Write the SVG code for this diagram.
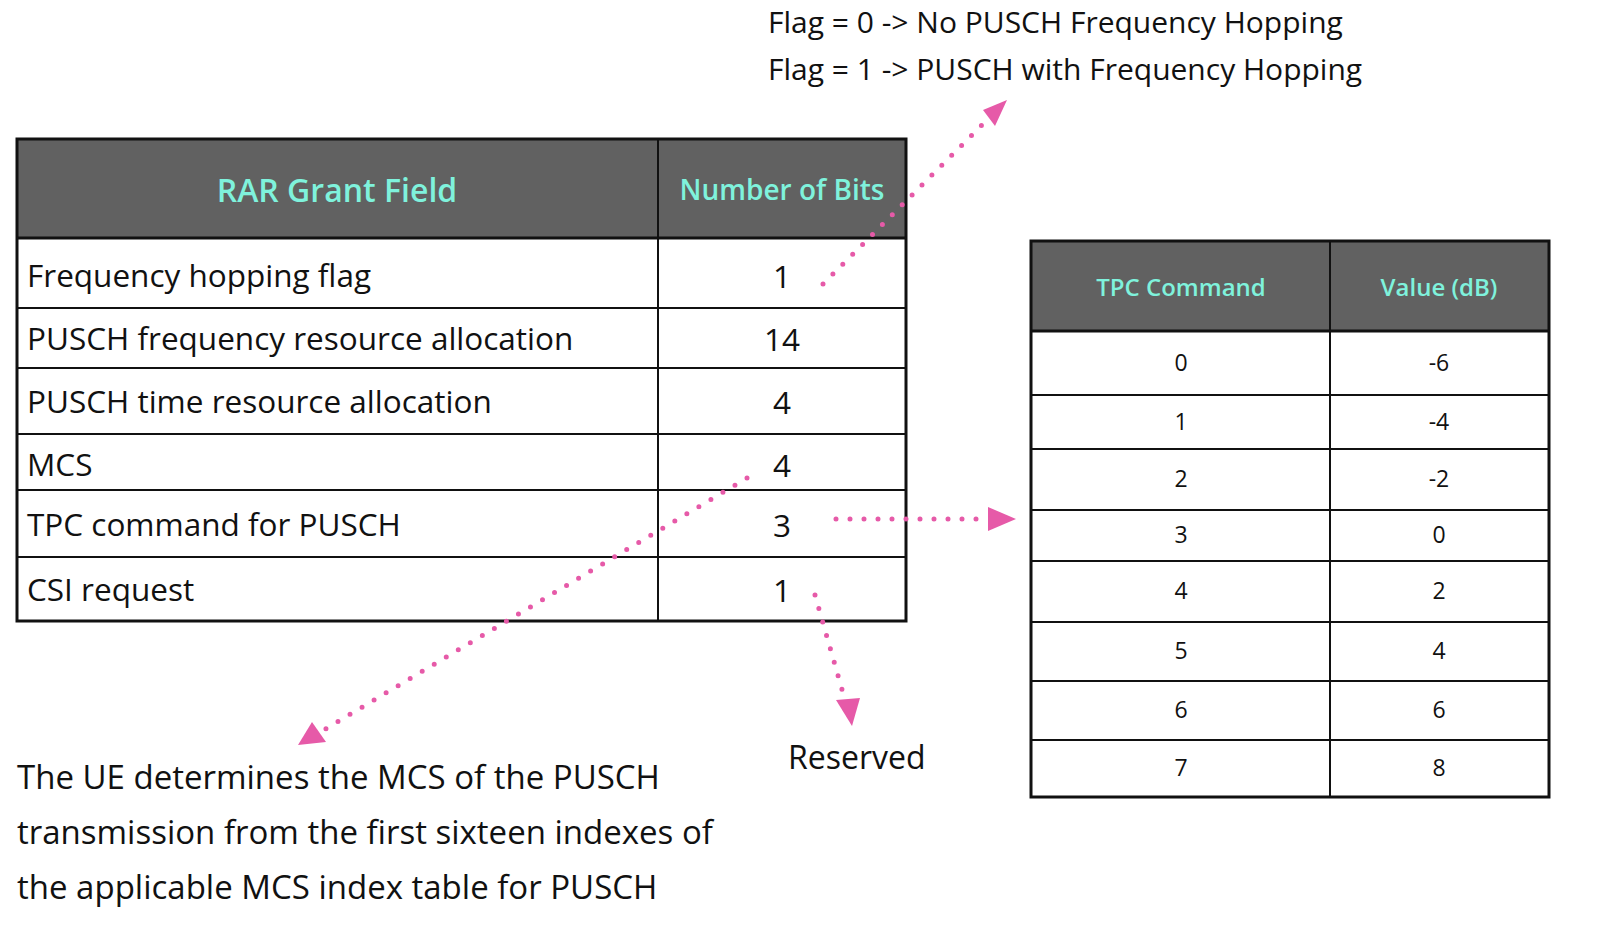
<svg xmlns="http://www.w3.org/2000/svg" width="1600" height="943" viewBox="0 0 1600 943">
<style>
text{font-family:"Open Sans","DejaVu Sans",sans-serif;fill:#111}
.hd{fill:#616161}
.ht{fill:#7ff2dc;font-weight:600}
.ln{stroke:#111;stroke-width:2;fill:none}
.bd{stroke:#111;stroke-width:3;fill:none}
.dot{stroke:#e65aa8;stroke-width:5;stroke-linecap:round;stroke-dasharray:0 14;fill:none}
</style>
<rect width="1600" height="943" fill="#fff"/>
<g id="top-note">
<text x="768" y="33" font-size="30">Flag = 0 -&gt; No PUSCH Frequency Hopping</text>
<text x="768" y="80" font-size="30">Flag = 1 -&gt; PUSCH with Frequency Hopping</text>
</g>
<g id="rar-table">
<rect x="17" y="139" width="889" height="99" class="hd"/>
<text x="337" y="202" font-size="32" text-anchor="middle" class="ht">RAR Grant Field</text>
<text x="782" y="200" font-size="28" text-anchor="middle" class="ht">Number of Bits</text>
<path class="ln" d="M17 308H906M17 368H906M17 434H906M17 490H906M17 557H906M658 139V621"/>
<rect x="17" y="139" width="889" height="482" class="bd"/>
<path class="bd" d="M17 238H906"/>
<g font-size="31.5">
<text x="27" y="287">Frequency hopping flag</text><text x="782" y="288" text-anchor="middle">1</text>
<text x="27" y="350">PUSCH frequency resource allocation</text><text x="782" y="351" text-anchor="middle">14</text>
<text x="27" y="413">PUSCH time resource allocation</text><text x="782" y="414" text-anchor="middle">4</text>
<text x="27" y="476">MCS</text><text x="782" y="477" text-anchor="middle">4</text>
<text x="27" y="536">TPC command for PUSCH</text><text x="782" y="537" text-anchor="middle">3</text>
<text x="27" y="601">CSI request</text><text x="782" y="602" text-anchor="middle">1</text>
</g>
</g>
<g id="tpc-table">
<rect x="1031" y="241" width="518" height="90" class="hd"/>
<text x="1181" y="296" font-size="24" text-anchor="middle" class="ht">TPC Command</text>
<text x="1439" y="296" font-size="24" text-anchor="middle" class="ht">Value (dB)</text>
<path class="ln" d="M1031 395H1549M1031 449H1549M1031 510H1549M1031 561H1549M1031 622H1549M1031 681H1549M1031 740H1549M1330 241V797"/>
<rect x="1031" y="241" width="518" height="556" class="bd"/>
<path class="bd" d="M1031 331H1549"/>
<g font-size="23" text-anchor="middle">
<text x="1181" y="371">0</text><text x="1439" y="371">-6</text>
<text x="1181" y="430">1</text><text x="1439" y="430">-4</text>
<text x="1181" y="487">2</text><text x="1439" y="487">-2</text>
<text x="1181" y="543">3</text><text x="1439" y="543">0</text>
<text x="1181" y="599">4</text><text x="1439" y="599">2</text>
<text x="1181" y="659">5</text><text x="1439" y="659">4</text>
<text x="1181" y="718">6</text><text x="1439" y="718">6</text>
<text x="1181" y="776">7</text><text x="1439" y="776">8</text>
</g>
</g>
<g id="reserved"><text x="788" y="769" font-size="32">Reserved</text></g>
<g id="mcs-note" font-size="33">
<text x="17" y="789">The UE determines the MCS of the PUSCH</text>
<text x="17" y="844">transmission from the first sixteen indexes of</text>
<text x="17" y="899">the applicable MCS index table for PUSCH</text>
</g>
<g id="connectors">
<path class="dot" d="M823 284L985 122"/><path d="M983 110L1007 100L995 126z" fill="#e65aa8"/>
<path class="dot" d="M836 519L990 519"/><path d="M988 507L1016 519L988 531z" fill="#e65aa8"/>
<path class="dot" d="M815 595L845 700"/><path d="M836 700L860 698L852 726z" fill="#e65aa8"/>
<path class="dot" d="M747 478L322 731"/><path d="M312 722L326 742L298 745z" fill="#e65aa8"/>
</g>
</svg>
